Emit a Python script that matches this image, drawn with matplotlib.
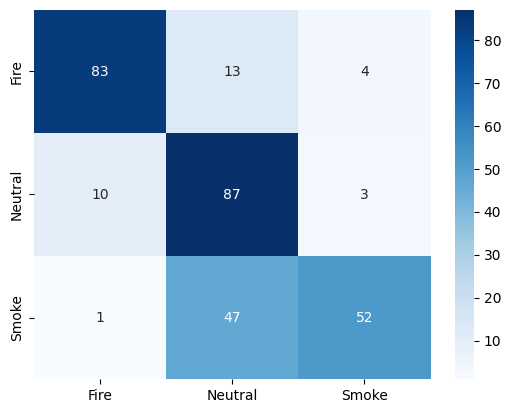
import matplotlib
matplotlib.use("Agg")
import matplotlib.pyplot as plt
import numpy as np
import seaborn as sns

labels = ["Fire", "Neutral", "Smoke"]
fire_row = [83, 13, 4]
neutral_row = [10, 87, 3]
smoke_row = [1, 47, 52]

cm = np.array([fire_row, neutral_row, smoke_row])

fig, ax = plt.subplots()
sns.heatmap(cm, annot=True, fmt="d", cmap="Blues",
            xticklabels=labels, yticklabels=labels, ax=ax)
fig.savefig("out.png", bbox_inches="tight")
